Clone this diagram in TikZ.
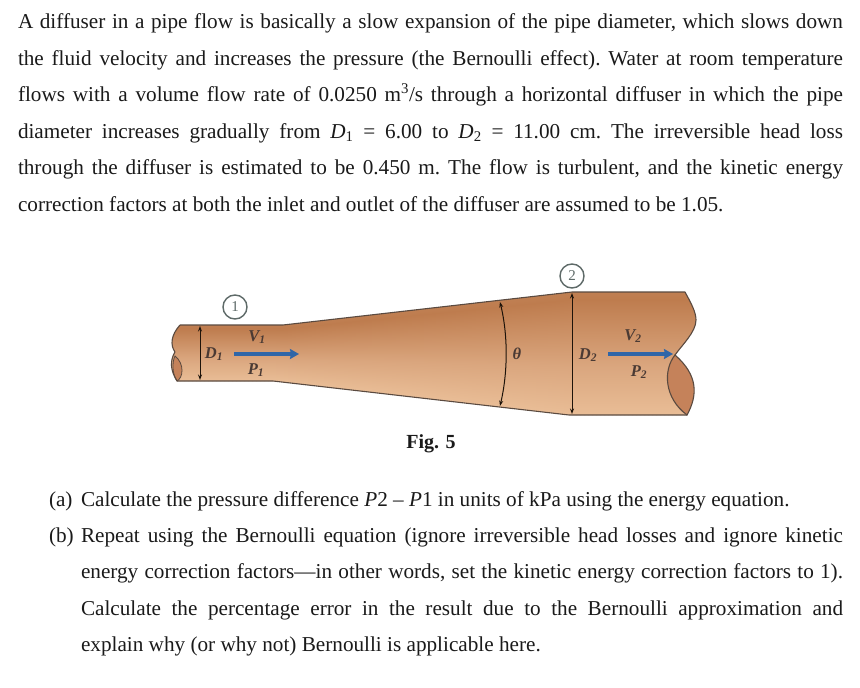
\documentclass[tikz,border=0pt]{standalone}
\usepackage{fontspec}
\setmainfont{Liberation Serif}
\usetikzlibrary{arrows.meta}
\definecolor{c1}{HTML}{CC9A76}
\definecolor{c2}{HTML}{BE7C4E}
\definecolor{c3}{HTML}{DAA67E}
\definecolor{c4}{HTML}{E9BD96}
\definecolor{c5}{HTML}{D2A07A}
\definecolor{lens}{HTML}{C5825A}
\definecolor{edge}{HTML}{5A4A40}
\definecolor{flow}{HTML}{2F66A8}
\definecolor{lab}{HTML}{4A3A34}
\definecolor{ring}{HTML}{5E6A68}
\definecolor{txt}{HTML}{1A1A1A}
\pgfdeclareverticalshading{pipeshade}{100bp}{
 color(0bp)=(c5); color(25bp)=(c4); color(45bp)=(c3); color(72bp)=(c2); color(100bp)=(c1)}
\newcommand{\tl}[2]{\node[bodyline] at (18,#1) {\makebox[825pt][s]{#2}};}
\newcommand{\il}[2]{\node[bodyline] at (81,#1) {\makebox[762pt][s]{#2}};}
\tikzset{
 bodyline/.style={anchor=base west,inner sep=0pt,outer sep=0pt,text=txt,font=\fontsize{21.2}{25}\selectfont\frenchspacing},
 figcap/.style={anchor=base,inner sep=0pt,text=txt,font=\bfseries\fontsize{20}{24}\selectfont},
 pipelabel/.style={inner sep=0pt,text=lab,font=\bfseries\itshape\fontsize{16.5}{18}\selectfont},
 station/.style={circle,draw=ring,line width=1.4pt,fill=white,minimum size=24pt,inner sep=0pt,text=ring,font=\fontsize{15}{16}\selectfont},
 dimline/.style={draw=black!85!brown,line width=1pt,{Stealth[length=5.5pt,width=4pt]}-{Stealth[length=5.5pt,width=4pt]}},
 flowarrow/.style={draw=flow,line width=3.4pt,-{Stealth[length=9pt,width=10pt,inset=1pt]}},
 pipeedge/.style={draw=edge,line width=1.1pt,line join=round}
}
\begin{document}
\begin{tikzpicture}[x=1pt,y=-1pt]
\useasboundingbox (0,0) rectangle (860,688);
\fill[white] (0,0) rectangle (860,688);
% body text
\tl{28}{A diffuser in a pipe flow is basically a slow expansion of the pipe diameter, which slows down}
\tl{65}{the fluid velocity and increases the pressure (the Bernoulli effect). Water at room temperature}
\tl{101}{flows with a volume flow rate of 0.0250 m\textsuperscript{3}/s through a horizontal diffuser in which the pipe}
\tl{138}{diameter increases gradually from \textit{D}\textsubscript{1} = 6.00 to \textit{D}\textsubscript{2} = 11.00 cm. The irreversible head loss}
\tl{174}{through the diffuser is estimated to be 0.450 m. The flow is turbulent, and the kinetic energy}
\node[bodyline] at (18,211) {correction factors at both the inlet and outlet of the diffuser are assumed to be 1.05.};
% pipe
\begin{scope}
\clip (180,325) -- (283,325) -- (572,292) -- (685,292)
  .. controls (691,303) and (696,312) .. (696,320)
  .. controls (696,332) and (682,345) .. (675,355)
  .. controls (690,370) and (698,385) .. (687,415)
  -- (569,415) -- (273,381) -- (177,381)
  .. controls (170,370) and (170,360) .. (175,352)
  .. controls (170,345) and (171,335) .. (180,325) -- cycle;
\foreach \x in {168,172,...,700}{
  \pgfmathsetmacro{\ttop}{\x<283 ? 325 : (\x>572 ? 292 : 325-33*(\x-283)/289)}
  \pgfmathsetmacro{\tbot}{\x<273 ? 381 : (\x>569 ? 415 : 381+34*(\x-273)/296)}
  \shade[shading=pipeshade] (\x,\ttop) rectangle (\x+5,\tbot);
}
\end{scope}
% end lenses
\path[fill=lens,draw=edge,line width=0.8pt] (175,356)
  .. controls (172,362) and (172,374) .. (177,381)
  .. controls (183,378) and (185,364) .. (175,356) -- cycle;
\path[fill=lens,draw=edge,line width=1.1pt] (675,355)
  .. controls (663,370) and (664,398) .. (687,415)
  .. controls (698,395) and (698,375) .. (675,355) -- cycle;
% outline
\draw[pipeedge] (180,325) -- (283,325) -- (572,292) -- (685,292)
  .. controls (691,303) and (696,312) .. (696,320)
  .. controls (696,332) and (682,345) .. (675,355);
\draw[pipeedge] (687,415) -- (569,415) -- (273,381) -- (177,381);
\draw[pipeedge] (177,381) .. controls (170,370) and (170,360) .. (175,352)
  .. controls (170,345) and (171,335) .. (180,325);
% dimension lines
\coordinate (d1t) at (200,326);
\coordinate (d1b) at (200,380);
\coordinate (d2t) at (572,293);
\coordinate (d2b) at (572,414);
\coordinate (tht) at (500,302);
\coordinate (thb) at (500,406);
\draw[dimline] (d1t) -- (d1b);
\draw[dimline] (d2t) -- (d2b);
\draw[dimline] (tht) .. controls (508,335) and (508,372) .. (thb);
% flow arrows
\coordinate (f1a) at (234,354);
\coordinate (f1b) at (299,354);
\coordinate (f2a) at (608,354);
\coordinate (f2b) at (673,354);
\draw[flowarrow] (f1a) -- (f1b);
\draw[flowarrow] (f2a) -- (f2b);
% labels
\node[pipelabel] (D1) at (214,354) {D\textsubscript{1}};
\node[pipelabel] (V1) at (257,337) {V\textsubscript{1}};
\node[pipelabel] (P1) at (256,370) {P\textsubscript{1}};
\node[pipelabel] (TH) at (517,354) {θ};
\node[pipelabel] (D2) at (588,355) {D\textsubscript{2}};
\node[pipelabel] (V2) at (633,336) {V\textsubscript{2}};
\node[pipelabel] (P2) at (639,372) {P\textsubscript{2}};
\node[station] (S1) at (235,307) {1};
\node[station] (S2) at (572,276) {2};
\node[figcap] (F) at (431,448) {Fig. 5};
% questions
\node[bodyline] at (49,506) {(a)};
\node[bodyline] at (81,506) {Calculate the pressure difference \textit{P}2 – \textit{P}1 in units of kPa using the energy equation.};
\node[bodyline] at (49,542) {(b)};
\il{542}{Repeat using the Bernoulli equation (ignore irreversible head losses and ignore kinetic}
\il{578}{energy correction factors—in other words, set the kinetic energy correction factors to 1).}
\il{615}{Calculate the percentage error in the result due to the Bernoulli approximation and}
\node[bodyline] at (81,651) {explain why (or why not) Bernoulli is applicable here.};
\end{tikzpicture}
\end{document}
